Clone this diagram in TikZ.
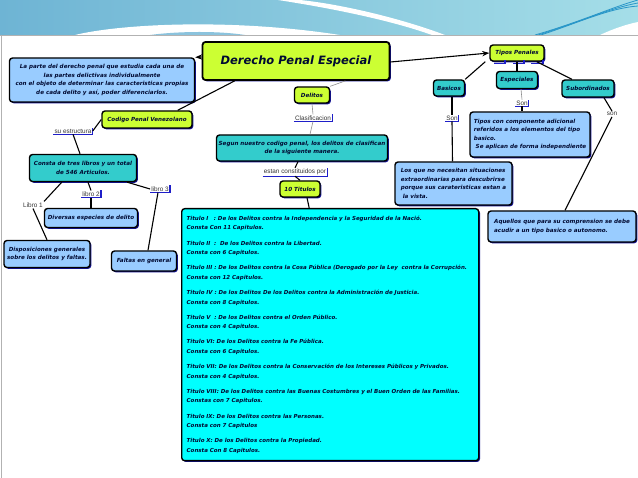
\documentclass[tikz,border=0pt]{standalone}
\usepackage{fontspec}
\setmainfont{DejaVu Sans}
\newfontfamily\labelfont{Liberation Sans}
\usetikzlibrary{arrows.meta, positioning, shadows}
\definecolor{limeBox}{RGB}{204,255,51}
\definecolor{tealBox}{RGB}{51,204,204}
\definecolor{skyBox}{RGB}{153,204,255}
\definecolor{cyanBox}{RGB}{0,255,255}
\definecolor{boxText}{RGB}{0,10,50}
\definecolor{shadowBlue}{RGB}{20,20,150}
\definecolor{linkBlue}{RGB}{30,30,200}
\definecolor{bannerLeft}{RGB}{110,180,212}
\definecolor{bannerRight}{RGB}{165,222,232}
\definecolor{bannerStreak}{RGB}{40,150,200}

\tikzset{
  box/.style={draw=black, line width=1.4pt, rounded corners=3pt, text=boxText, align=center, inner sep=2pt,
    font=\bfseries\itshape\fontsize{5.6}{8.4}\selectfont,
    drop shadow={fill=shadowBlue, opacity=1, shadow xshift=1.3pt, shadow yshift=-1.3pt}},
  limebox/.style={box, fill=limeBox},
  tealbox/.style={box, fill=tealBox},
  skybox/.style={box, fill=skyBox},
  linklabel/.style={inner sep=1pt, text=black!80, font=\labelfont\fontsize{6.4}{7}\selectfont},
  linkline/.style={linkBlue, line width=1.2pt},
  conn/.style={black, line width=1.1pt},
  softconn/.style={black!45, line width=0.6pt}
}
\newcommand{\linkmark}[1]{\draw[linkline] (#1.south west) -- (#1.south east) -- (#1.north east);}

\begin{document}
\begin{tikzpicture}[x=1pt, y=-1pt]
\useasboundingbox (0,0) rectangle (638,478);
% slide banner
\fill[left color=bannerLeft, right color=bannerRight] (0,0) rectangle (638,35);
\fill[white] (75,35) .. controls (120,24) and (230,18) .. (340,35) -- cycle;
\fill[bannerLeft!80] (150,35) .. controls (180,31) and (220,31) .. (245,35) -- cycle;
\fill[white] (278,0) .. controls (330,8) and (390,20) .. (432,35) -- (445,35) .. controls (400,18) and (340,4) .. (300,0) -- cycle;
\foreach \s in {0,3,6} \draw[bannerStreak, line width=0.8pt] (535+\s,35) .. controls (580,22) and (610,8) .. (638,0+\s);
\fill[white] (600,35) .. controls (615,28) and (628,24) .. (638,22) -- (638,35) -- cycle;
\draw[black!30] (0,35) -- (638,35);
\draw[black!30] (1.5,35) -- (1.5,478);

% Nodes
\node[limebox, minimum width=187pt, minimum height=38pt, line width=1.8pt,
  font=\bfseries\itshape\fontsize{11.5}{13}\selectfont] (title) at (296,61) {Derecho Penal Especial};
\node[skybox, minimum width=185pt, minimum height=44pt] (concept) at (102,80)
  {La parte del derecho penal que estudia cada una de\\las partes delictivas individualmente\\con el objeto de determinar las caracteristicas propias\\de cada delito y así, poder diferenciarlos.};
\node[limebox, minimum width=90pt, minimum height=17pt] (codigo) at (147,119.5) {Codigo Penal Venezolano};
\node[tealbox, minimum width=107pt, minimum height=27pt] (libros) at (83,168) {Consta de tres libros y un total\\de 546 Articulos.};
\node[skybox, minimum width=93pt, minimum height=19pt] (diversas) at (91,218) {Diversas especies de delito};
\node[skybox, minimum width=86pt, minimum height=27pt] (disposiciones) at (47,254) {Disposiciones generales\\sobre los delitos y faltas.};
\node[skybox, minimum width=65pt, minimum height=20pt] (faltas) at (144,261) {Faltas en general};

\node[limebox, minimum width=35pt, minimum height=16pt] (delitos) at (312,95) {Delitos};
\node[tealbox, minimum width=171pt, minimum height=26pt] (segun) at (302,148) {Segun nuestro codigo penal, los delitos de clasifican\\de la siguiente manera.};
\node[limebox, minimum width=40pt, minimum height=16pt] (titulos) at (300,189) {10 Titulos};
\node[box, fill=cyanBox, anchor=north west, minimum width=297pt, minimum height=252pt, align=left,
  text width=287pt, inner sep=5pt,
  font=\bfseries\itshape\fontsize{5.5}{9.5}\selectfont] (lista) at (181,208)
  {Titulo I \ \ : De los Delitos contra la Independencia y la Seguridad de la Nació.\\Consta Con 11 Capitulos.\\[5.7pt]
   Titulo II \ : \ De los Delitos contra la Libertad.\\Consta con 6 Capitulos.\\[5.7pt]
   Titulo III : De los Delitos contra la Cosa Pública (Derogado por la Ley \ contra la Corrupción.\\Consta con 12 Capitulos.\\[5.7pt]
   Titulo IV : De los Delitos De los Delitos contra la Administración de Justicia.\\Consta con 8 Capitulos.\\[5.7pt]
   Titulo V \ : De los Delitos contra el Orden Público.\\Consta con 4 Capitulos.\\[5.7pt]
   Titulo VI: De los Delitos contra la Fe Pública.\\Consta con 6 Capitulos.\\[5.7pt]
   Titulo VII: De los Delitos contra la Conservación de los Intereses Públicos y Privados.\\Consta con 4 Capitulos.\\[5.7pt]
   Titulo VIII: De los Delitos contra las Buenas Costumbres y el Buen Orden de las Familias.\\Constas con 7 Capitulos.\\[5.7pt]
   Titulo IX: De los Delitos contra las Personas.\\Consta con 7 Capitulos\\[5.7pt]
   Titulo X: De los Delitos contra la Propiedad.\\Consta Con 8 Capitulos.};

\node[limebox, minimum width=54pt, minimum height=16pt] (tipos) at (517,53) {Tipos Penales};
\node[tealbox, minimum width=31pt, minimum height=16pt] (basicos) at (449,88) {Basicos};
\node[tealbox, minimum width=41pt, minimum height=17pt] (especiales) at (517,80) {Especiales};
\node[tealbox, minimum width=52pt, minimum height=17pt] (subordinados) at (588,88.5) {Subordinados};
\node[skybox, minimum width=120pt, minimum height=45pt, align=left] (componente) at (530,134.5)
  {Tipos con componente adicional\\referidos a los elementos del tipo\\basico.\\\ Se aplican de forma independiente};
\node[skybox, minimum width=117pt, minimum height=43pt, align=left] (vista) at (453.5,183.5)
  {Los que no necesitan situaciones\\extraordinarias para descubrirse\\porque sus carateristicas estan a\\\ la vista.};
\node[skybox, minimum width=148pt, minimum height=31pt, align=left] (autonomo) at (562,226.5)
  {Aquellos que para su comprension se debe\\acudir a un tipo basico o autonomo.};

% Labels
\node[linklabel] (estructura) at (73,131) {su estructura};
\node[linklabel] (libro1) at (33,205) {Libro 1};
\node[linklabel] (libro2) at (91,194) {libro 2};
\node[linklabel] (libro3) at (160,189) {libro 3};
\node[linklabel] (clasificacion) at (313,118) {Clasificacion};
\node[linklabel] (constituidos) at (295,172) {estan constituidos por};
\node[linklabel] (sonbasicos) at (452,118) {Son};
\node[linklabel] (sonespeciales) at (522,103) {Son};
\node[linklabel] (sonsubord) at (612,114) {son};
\foreach \n in {estructura, libro2, libro3, clasificacion, constituidos, sonbasicos, sonespeciales} {\linkmark{\n}}
\foreach \a/\b in {494/505, 513/524, 531/543} \draw[linkline] (\a,63.5) -- (\b,63.5) -- (\b,60.5);

% Arrows
\draw[conn, -{Stealth[scale=0.9]}] ([yshift=4pt]title.west) -- (concept.north east);
\draw[conn, -{Stealth[scale=0.9]}] ([yshift=-1pt]title.east) -- (tipos.west);
\draw[conn] ([xshift=33pt]title.south west) -- ([xshift=-15pt]codigo.north east);
\draw[conn] (codigo.west) -- (estructura.east);
\draw[conn] (estructura.south) -- ([xshift=-3pt]libros.north);
\draw[conn] ([xshift=33pt]libros.south west) -- (libro1.north east);
\draw[conn] (libro1.south) -- (disposiciones.north);
\draw[conn] ([xshift=5pt]libros.south) -- (libro2.north);
\draw[conn] (libro2.south) -- (diversas.north);
\draw[conn] ([xshift=-10pt]libros.south east) -- (libro3.west);
\draw[conn] ([xshift=-2pt]libro3.south) -- ([xshift=4pt]faltas.north);
\draw[softconn] ([xshift=-45pt]title.south east) -- (delitos.north east);
\draw[softconn] (delitos.south) -- (clasificacion.north);
\draw[softconn] (clasificacion.south) -- ([xshift=8pt]segun.north);
\draw[conn] ([xshift=-4pt]segun.south) -- (constituidos.north);
\draw[conn] (constituidos.south) -- (titulos.north);
\draw[conn] ([xshift=7pt]titulos.south) -- ([xshift=-21pt]lista.north);
\draw[conn] ([xshift=-4pt]tipos.south west) -- (basicos.north east);
\draw[conn] (tipos.south) -- (especiales.north);
\draw[conn] ([xshift=-8pt]tipos.south east) -- ([xshift=-16pt]subordinados.north);
\draw[conn] ([xshift=3pt]basicos.south) -- (sonbasicos.north);
\draw[conn] (sonbasicos.south) -- ([xshift=-1pt]vista.north);
\draw[softconn] ([xshift=4pt]especiales.south) -- (sonespeciales.north);
\draw[conn] (sonespeciales.south) -- ([xshift=-8pt]componente.north);
\draw[conn] ([xshift=16pt]subordinados.south) -- (sonsubord.north);
\draw[conn] (sonsubord.south) -- ([xshift=3pt]autonomo.north);
\end{tikzpicture}
\end{document}
